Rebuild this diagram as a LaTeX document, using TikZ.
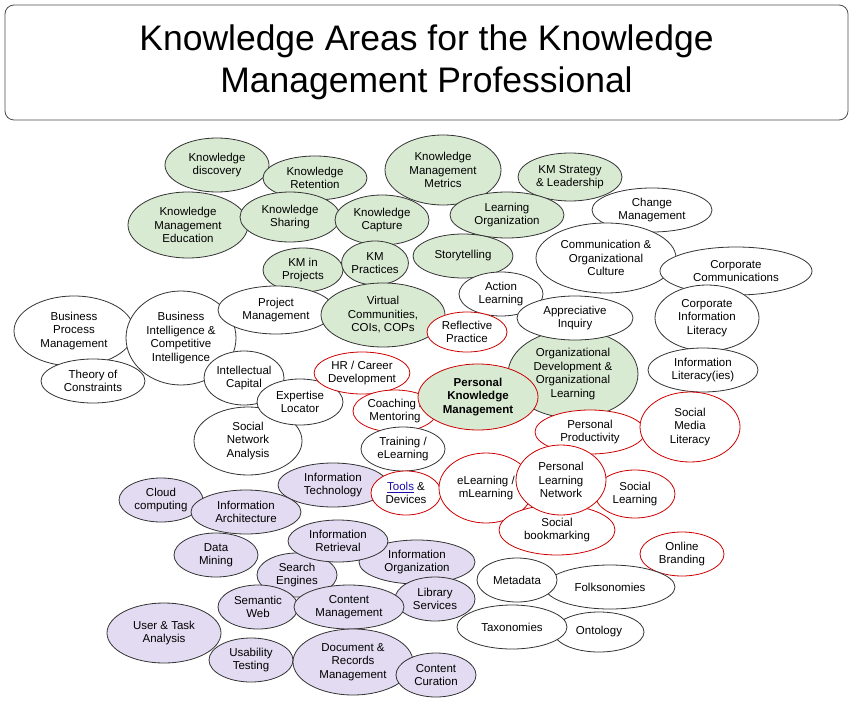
\documentclass[tikz,border=0pt]{standalone}
\usepackage{fontspec}
\setmainfont{Liberation Sans}
\usetikzlibrary{shapes.geometric}
\definecolor{gfill}{HTML}{D9EAD3}
\definecolor{pfill}{HTML}{E2DBF2}
\definecolor{redl}{HTML}{CC0000}
\definecolor{linkb}{HTML}{1A0DAB}
\tikzset{
 base/.style={ellipse,inner sep=0pt,align=center,font=\fontsize{11.5}{13.5}\selectfont,line width=0.8pt},
 gr/.style={base,draw=black!80,fill=gfill},
 wh/.style={base,draw=black!80,fill=white},
 rd/.style={base,draw=redl,fill=white},
 pu/.style={base,draw=black!80,fill=pfill},
 pk/.style={base,draw=redl,fill=gfill,font=\fontsize{11.5}{13.5}\selectfont\bfseries},
}
\newcommand\el[7]{\node[#6,minimum width=#4*2pt,minimum height=#5*2pt] (#1) at (#2pt,-#3pt) {#7};}
\begin{document}
\begin{tikzpicture}[x=1pt,y=1pt]
\useasboundingbox (0,0) rectangle (853pt,-703pt);
\node[draw=black!70,rounded corners=9pt,line width=0.8pt,minimum width=843pt,minimum height=115pt,align=center,font=\fontsize{35.5}{42}\selectfont] (title) at (426.5pt,-62.5pt) {Knowledge Areas for the Knowledge\\Management Professional};
% green
\el{kd}{217}{165}{52}{27}{gr}{Knowledge\\discovery}
\el{kr}{315}{178}{52}{22}{gr}{Knowledge\\Retention}
\el{kmm}{443}{170}{58}{35}{gr}{Knowledge\\Management\\Metrics}
\el{kms}{570}{177}{52}{24}{gr}{KM Strategy\\\& Leadership}
\el{chm}{652}{210}{60}{22}{wh}{Change\\Management}
\el{kme}{188}{225}{60}{33}{gr}{Knowledge\\Management\\Education}
\el{ks}{290}{217}{50}{25}{gr}{Knowledge\\Sharing}
\el{kc}{382}{220}{47}{25}{gr}{Knowledge\\Capture}
\el{lo}{507}{215}{57}{23}{gr}{Learning\\Organization}
\el{coc}{606}{258}{70}{35}{wh}{Communication \&\\Organizational\\Culture}
\el{cc}{736}{271}{76}{24}{wh}{Corporate\\Communications}
\el{kmp}{303}{270}{40}{22}{gr}{KM in\\Projects}
\el{kpr}{375}{263}{32}{22}{gr}{KM\\Practices}
\el{st}{463}{256}{50}{22}{gr}{Storytelling}
\el{al}{501}{294}{42}{22}{wh}{Action\\Learning}
\el{bpm}{74}{331}{60}{35}{wh}{Business\\Process\\Management}
\el{toc}{93}{381}{52}{22}{wh}{Theory of\\Constraints}
\el{bi}{181}{338}{55}{47}{wh}{Business\\Intelligence \&\\Competitive\\Intelligence}
\el{pm}{276}{310}{58}{24}{wh}{Project\\Management}
\el{vc}{383}{315}{62}{32}{gr}{Virtual\\Communities,\\COIs, COPs}
\el{od}{573}{374}{65}{44}{gr}{Organizational\\Development \&\\Organizational\\Learning}
\el{ai}{575}{318}{58}{22}{wh}{Appreciative\\Inquiry}
\el{cil}{707}{318}{52}{33}{wh}{Corporate\\Information\\Literacy}
\el{il}{703}{370}{55}{22}{wh}{Information\\Literacy(ies)}
\el{rp}{467}{332}{40}{20}{rd}{Reflective\\Practice}
\el{ic}{244}{378}{40}{27}{wh}{Intellectual\\Capital}
\el{sna}{248}{441}{54}{34}{wh}{Social\\Network\\Analysis}
\el{el}{300}{402}{43}{23}{wh}{Expertise\\Locator}
\el{hr}{362}{373}{46}{21}{rd}{HR / Career\\Development}
\el{cm}{395}{411}{42}{21}{rd}{Coaching /\\Mentoring}
\el{pkm}{478}{397}{60}{33}{pk}{Personal\\Knowledge\\Management}
\el{pp}{590}{432}{55}{22}{rd}{Personal\\Productivity}
\el{sml}{690}{427}{50}{35}{rd}{Social\\Media\\Literacy}
\el{te}{403}{449}{42}{22}{wh}{Training /\\eLearning}
% purple & lower
\el{it}{333}{485}{55}{22}{pu}{Information\\Technology}
\el{td}{406}{493}{35}{22}{rd}{\textcolor{linkb}{\underline{Tools}} \&\\Devices}
\el{eml}{486}{488}{47}{35}{rd}{eLearning /\\mLearning}
\el{sb}{557}{530}{58}{25}{rd}{Social\\bookmarking}
\el{sl}{635}{494}{40}{24}{rd}{Social\\Learning}
\el{pln}{561}{480}{45}{35}{rd}{Personal\\Learning\\Network}
\el{ob}{682}{554}{42}{22}{rd}{Online\\Branding}
\el{cloud}{161}{500}{42}{22}{pu}{Cloud\\computing}
\el{ia}{246}{512}{55}{22}{pu}{Information\\Architecture}
\el{io}{417}{562}{58}{22}{pu}{Information\\Organization}
\el{se}{297}{575}{40}{22}{pu}{Search\\Engines}
\el{ir}{338}{541}{50}{21}{pu}{Information\\Retrieval}
\el{dm}{216}{555}{42}{22}{pu}{Data\\Mining}
\el{ls}{435}{599}{40}{22}{pu}{Library\\Services}
\el{sw}{258}{607}{40}{22}{pu}{Semantic\\Web}
\el{cmg}{349}{607}{55}{22}{pu}{Content\\Management}
\el{uta}{164}{633}{57}{30}{pu}{User \& Task\\Analysis}
\el{ut}{251}{660}{42}{22}{pu}{Usability\\Testing}
\el{drm}{353}{662}{60}{33}{pu}{Document \&\\Records\\Management}
\el{ccur}{436}{675}{40}{22}{pu}{Content\\Curation}
\el{fo}{610}{587}{65}{22}{wh}{Folksonomies}
\el{md}{517}{580}{40}{22}{wh}{Metadata}
\el{on}{599}{632}{45}{20}{wh}{Ontology}
\el{tx}{512}{627}{55}{22}{wh}{Taxonomies}
\end{tikzpicture}
\end{document}
